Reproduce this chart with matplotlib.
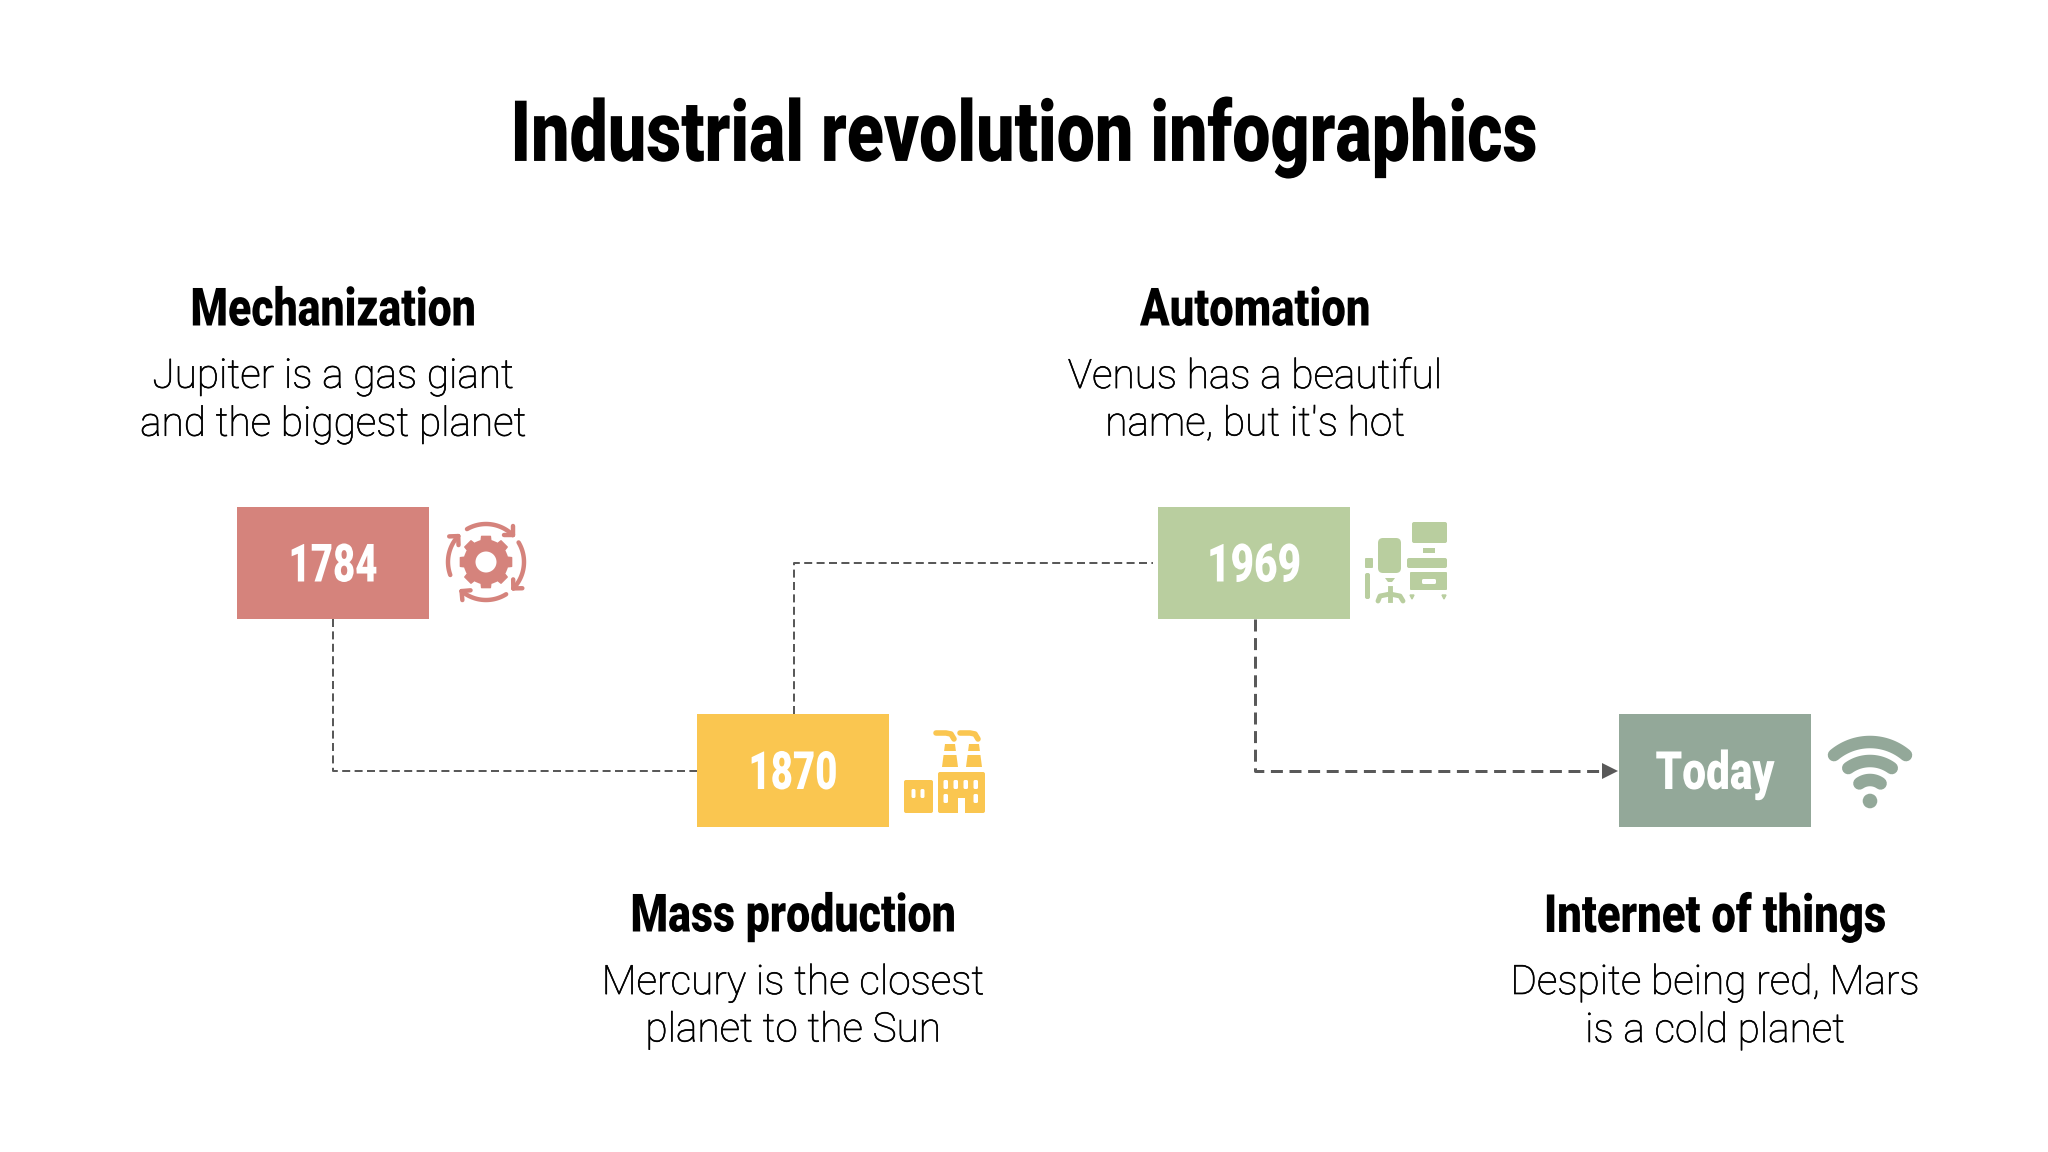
import numpy as np
import matplotlib
matplotlib.use("Agg")
import matplotlib.pyplot as plt
from matplotlib.patches import Rectangle, Polygon, Circle, FancyBboxPatch
from matplotlib.patheffects import AbstractPathEffect, withStroke
from matplotlib.transforms import Affine2D

titulo = "Industrial revolution infographics"
anos = ["1784", "1870", "1969", "Today"]
etapas = ["Mechanization", "Mass production", "Automation", "Internet of things"]
descricoes = [
    "Jupiter is a gas giant\nand the biggest planet",
    "Mercury is the closest\nplanet to the Sun",
    "Venus has a beautiful\nname, but it's hot",
    "Despite being red, Mars\nis a cold planet",
]
cores = ["#D5837C", "#FAC650", "#B9CE9F", "#93A899"]

FONTE_BOLD = ["Roboto", "DejaVu Sans"]
FONTE_BODY = ["Roboto", "DejaVu Sans"]

fig = plt.figure(figsize=(20.48, 11.52), dpi=100)
ax = fig.add_axes([0, 0, 1, 1])
ax.set_xlim(0, 2048)
ax.set_ylim(1152, 0)
ax.axis("off")
renderer = fig.canvas.get_renderer()


class Estreita(AbstractPathEffect):
    # aperta o texto na horizontal, nao ha fonte condensada instalada
    def __init__(self, sx, cx):
        super().__init__()
        self.sx = sx
        self.cx = cx

    def draw_path(self, renderer, gc, tpath, affine, rgbFace=None):
        t = affine + Affine2D().translate(-self.cx, 0).scale(self.sx, 1).translate(self.cx, 0)
        renderer.draw_path(gc, tpath, t, rgbFace)


def texto_estreito(x, y, s, tam, largura, cor="black", z=5):
    t = ax.text(x, y, s, ha="center", va="center", fontsize=tam, fontweight="black",
                family=FONTE_BOLD, color=cor, zorder=z)
    atual = t.get_window_extent(renderer).width
    t.set_path_effects([Estreita(largura / atual, ax.transData.transform((x, y))[0])])
    return t


def bloco(x, y, w, h, cor, r=1.5, z=3):
    ax.add_patch(FancyBboxPatch((x + r, y + r), w - 2 * r, h - 2 * r,
                                boxstyle=f"round,pad={r},rounding_size={r}",
                                fc=cor, ec="none", zorder=z))


def arco(cx, cy, r, a1, a2, cor, lw):
    t = np.radians(np.linspace(a1, a2, 60))
    ax.plot(cx + r * np.cos(t), cy + r * np.sin(t), color=cor, lw=lw,
            solid_capstyle="round", zorder=3)


def icone_engrenagem(cx, cy, cor):
    for a in np.arange(0, 360, 45):
        t = np.radians(a)
        ax.add_patch(Polygon([(cx + 18 * np.cos(t - 0.3), cy + 18 * np.sin(t - 0.3)),
                              (cx + 26 * np.cos(t - 0.17), cy + 26 * np.sin(t - 0.17)),
                              (cx + 26 * np.cos(t + 0.17), cy + 26 * np.sin(t + 0.17)),
                              (cx + 18 * np.cos(t + 0.3), cy + 18 * np.sin(t + 0.3))],
                             fc=cor, ec=cor, lw=1, joinstyle="round", zorder=3))
    ax.add_patch(Circle((cx, cy), 22.5, fc=cor, ec="none", zorder=3))
    ax.add_patch(Circle((cx, cy), 10.5, fc="white", ec="none", zorder=4))
    # quatro setas em volta, sentido horario
    lw = 3.2
    R = 38
    for a1, a2 in [(-120, -45), (-31, 44), (58, 130), (160, 223)]:
        arco(cx, cy, R, a1, a2, cor, lw)
        t = np.radians(a2)
        px, py = cx + R * np.cos(t), cy + R * np.sin(t)
        for lado in (-1, 1):
            b = t - np.pi / 2 + lado * np.pi / 4
            ax.plot([px, px + 9 * np.cos(b)], [py, py + 9 * np.sin(b)], color=cor, lw=lw,
                    solid_capstyle="round", zorder=3)


def icone_fabrica(cor):
    bloco(904, 780, 29, 33, cor, 2)
    bloco(938, 772, 47, 41, cor, 2)
    for x in (913, 922):
        bloco(x - 1.5, 789, 4, 9, "white", 1.5, 4)
    for x in (945, 955, 965, 975):
        bloco(x - 1.5, 780, 4.5, 9, "white", 1.5, 4)
    for x in (945, 975):
        bloco(x - 1.5, 794, 4.5, 9, "white", 1.5, 4)
    ax.add_patch(Rectangle((958, 798), 7, 15, fc="white", ec="none", zorder=4))
    for x in (950, 974):
        ax.add_patch(Polygon([(x - 8, 767), (x - 5, 744), (x + 5, 744), (x + 8, 767)],
                             fc=cor, ec="none", zorder=3))
        ax.add_patch(Rectangle((x - 9, 751), 18, 3.5, fc="white", ec="none", zorder=4))
        xs = [x - 14, x - 4, x + 1, x + 4]
        ys = [733, 733, 734, 739]
        ax.plot(xs, ys, color=cor, lw=4, solid_capstyle="round",
                solid_joinstyle="round", zorder=3)


def icone_mesa(cor):
    bloco(1412, 522, 35, 21, cor, 2)
    ax.add_patch(Rectangle((1423, 548), 12, 5, fc=cor, ec="none", zorder=3))
    bloco(1407, 558, 40, 10, cor, 2)
    bloco(1410, 572, 37, 18, cor, 1)
    bloco(1422, 579, 14, 5, "white", 1.5, 4)
    bloco(1378, 538, 23, 35, cor, 5)
    bloco(1365, 558, 8, 10, cor, 1)
    bloco(1365, 573, 5, 26, cor, 2)
    ax.add_patch(Polygon([(1385, 578), (1395, 578), (1392, 582), (1388, 582)],
                         fc=cor, ec="none", zorder=3))
    ax.plot([1390, 1390], [588, 600], color=cor, lw=3.5, zorder=3)
    ax.plot([1378, 1380, 1390, 1400, 1403], [601, 596, 594, 596, 601], color=cor, lw=3.5,
            solid_capstyle="round", zorder=3)
    for x in (1412, 1444):
        ax.add_patch(Polygon([(x - 2, 595), (x + 2, 595), (x, 599)], fc=cor, ec=cor,
                             lw=1, zorder=3))


def icone_wifi(cx, cy, cor):
    ax.add_patch(Circle((cx, cy), 7.3, fc=cor, ec="none", zorder=3))
    for r, meio in [(56, 40), (37, 36), (18, 36)]:
        arco(cx, cy - 3, r, -90 - meio, -90 + meio, cor, 9)


caixas = [(237, 507), (697, 714), (1158, 507), (1619, 714)]
LARG = 192
alturas = [112, 113, 112, 113]

# linhas tracejadas
COR_LINHA = "#595959"
px_pt = 0.72
ax.plot([333, 333, 697], [619, 771, 771], color=COR_LINHA, lw=2 * px_pt,
        dashes=(4, 2.2), zorder=1)
ax.plot([793.5, 793.5, 1153], [714, 563, 563], color=COR_LINHA, lw=2 * px_pt,
        dashes=(4, 2.2), zorder=1)
ax.plot([1254.5, 1254.5, 1604], [619, 771, 771], color=COR_LINHA, lw=3 * px_pt,
        dashes=(4, 2.2), zorder=1)
ax.add_patch(Polygon([(1602, 763), (1618, 771), (1602, 779)], fc=COR_LINHA, ec="none", zorder=2))

texto_estreito(1024, 137, titulo, 61, 1027)

pos_titulos = [311, 917, 311, 917]
pos_desc = [400.5, 1006.5, 400.5, 1006.5]
centros_txt = [333, 793, 1255, 1715]
larg_etapas = [285, 325, 230, 342]
larg_anos = [89, 89, 94, 119]

for i, (x, y) in enumerate(caixas):
    ax.add_patch(Rectangle((x, y), LARG, alturas[i], fc=cores[i], ec="none", zorder=2))
    texto_estreito(x + LARG / 2, y + alturas[i] / 2 + 4, anos[i], 38, larg_anos[i], "white")
    texto_estreito(centros_txt[i], pos_titulos[i], etapas[i], 38, larg_etapas[i])
    ax.text(centros_txt[i], pos_desc[i], descricoes[i], ha="center", va="center", color="black",
            fontsize=29.2, fontweight="light", family=FONTE_BODY, linespacing=1.29,
            path_effects=[withStroke(linewidth=0.45, foreground="black")])

icone_engrenagem(486, 562, cores[0])
icone_fabrica(cores[1])
icone_mesa(cores[2])
icone_wifi(1870, 801, cores[3])

fig.savefig("out.png", dpi=100, facecolor="white")
